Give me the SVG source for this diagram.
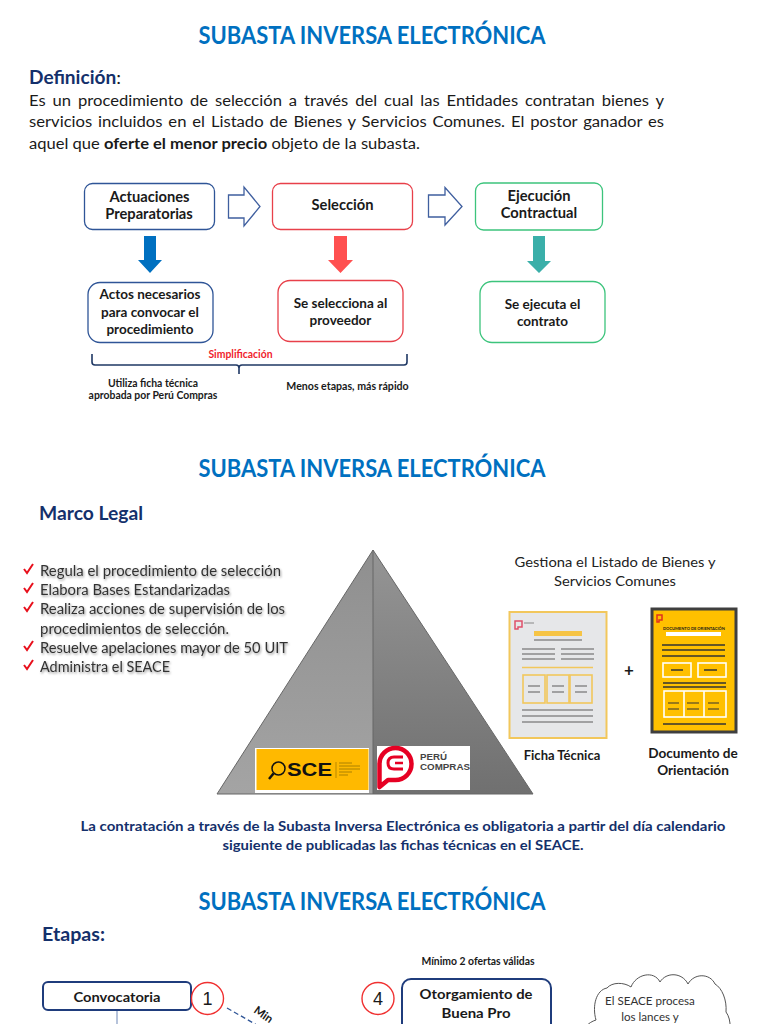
<svg xmlns="http://www.w3.org/2000/svg" width="768" height="1024" viewBox="0 0 768 1024">
<style>
text{font-family:"Lato","Open Sans","Liberation Sans",sans-serif;fill:#1a1a1a}
.t{font-size:24px;font-weight:700;fill:#0070c0;text-anchor:middle}
.h{font-size:18px;font-weight:700;fill:#14306b}
.b{font-size:15.5px}
.n{font-size:13.5px;font-weight:700;text-anchor:middle}
.m{font-size:14.700px;font-weight:700;text-anchor:middle}
.s{font-size:10.400px;font-weight:700;text-anchor:middle}
.l{font-size:14.5px;fill:#333;filter:url(#sh)}
.g{font-size:13.5px;text-anchor:middle;fill:#222}
.box{fill:#fff;stroke-width:1.3}
.blu{stroke:#2f5597}.red{stroke:#e8404a}.grn{stroke:#3cc47c}
.hol{fill:#fff;stroke:#3f5f9f;stroke-width:1.3}
.ck{fill:none;stroke:#e8101c;stroke-width:2}
.gl{stroke:#8a8a8a;stroke-width:1.6}
.dl{stroke:#333;stroke-width:1.6}
.yw{fill:none;stroke:#f2c75c;stroke-width:1.6}
.wh{fill:none;stroke:#fff;stroke-width:1.6}
</style>
<defs>
<linearGradient id="lf" x1="0" x2="0" y1="0" y2="1"><stop offset="0" stop-color="#8f8f8f"/><stop offset="1" stop-color="#a4a4a4"/></linearGradient>
<linearGradient id="rf" x1="0" x2="0" y1="0" y2="1"><stop offset="0" stop-color="#959595"/><stop offset="1" stop-color="#707070"/></linearGradient>
<filter id="sh" x="-5%" y="-30%" width="110%" height="170%"><feDropShadow dx="1" dy="1.5" stdDeviation="1.2" flood-color="#000" flood-opacity=".4"/></filter>
</defs>
<rect width="768" height="1024" fill="#fff"/>

<text class="t" x="372" y="44" textLength="347" lengthAdjust="spacingAndGlyphs">SUBASTA INVERSA ELECTRÓNICA</text>
<text class="h" x="29" y="84" textLength="92" lengthAdjust="spacingAndGlyphs">Definición<tspan style="font-weight:400;fill:#1a1a1a">:</tspan></text>
<text class="b" x="29" y="106" style="word-spacing:2.500px" textLength="635" lengthAdjust="spacingAndGlyphs">Es un procedimiento de selección a través del cual las Entidades contratan bienes y</text>
<text class="b" x="29" y="127" style="word-spacing:1.500px" textLength="635" lengthAdjust="spacingAndGlyphs">servicios incluidos en el Listado de Bienes y Servicios Comunes. El postor ganador es</text>
<text class="b" x="29" y="149" textLength="391" lengthAdjust="spacingAndGlyphs">aquel que <tspan font-weight="700">oferte el menor precio</tspan> objeto de la subasta.</text>

<g id="connectors">
<path class="hol" d="M228.500 195H244V187L260 206.500L244 226V218H228.500Z"/>
<path class="hol" d="M428.500 195H445V187.500L462 206.500L445 225V217H428.500Z"/>
<path fill="#0070c0" d="M144 236H156V260H162L150 273L138 260H144Z"/>
<path fill="#ff5050" d="M334 236H347V260H353L340.500 273L328 260H334Z"/>
<path fill="#3aafa9" d="M533 236H545V261H551L539 273L527 261H533Z"/>
<path d="M92 354V362Q92 365 95 365H236Q239 365 239 368V374M239 374V368Q239 365 242 365H404Q407 365 407 362V354" fill="none" stroke="#1f3864" stroke-width="1.600"/>
<path d="M117 1011V1024" stroke="#8fa3c8" stroke-width="1.300"/>
<path d="M227 1008L262 1028" stroke="#2f5597" stroke-width="1.300" stroke-dasharray="5 3" fill="none"/>
</g>

<g id="n1"><rect class="box blu" x="84.500" y="183.500" width="130" height="46" rx="8"/><text class="m" x="149.500" y="202">Actuaciones</text><text class="m" x="149" y="219">Preparatorias</text></g>
<g id="n2"><rect class="box red" x="272.500" y="183.500" width="140" height="46" rx="8"/><text class="m" x="342.500" y="210">Selección</text></g>
<g id="n3"><rect class="box grn" x="475.500" y="183" width="127" height="47" rx="8"/><text class="m" x="539" y="201">Ejecución</text><text class="m" x="539" y="218">Contractual</text></g>
<g id="n4"><rect class="box blu" x="88" y="282.500" width="125" height="60" rx="12"/><text class="n" x="150" y="299">Actos necesarios</text><text class="n" x="150" y="316.500">para convocar el</text><text class="n" x="150" y="334">procedimiento</text></g>
<g id="n5"><rect class="box red" x="278" y="280.500" width="125" height="61" rx="12"/><text class="n" x="340.500" y="307.500">Se selecciona al</text><text class="n" x="340.500" y="325">proveedor</text></g>
<g id="n6"><rect class="box grn" x="480" y="281.500" width="125" height="61" rx="12"/><text class="n" x="542.500" y="308.500">Se ejecuta el</text><text class="n" x="542.500" y="326">contrato</text></g>

<text class="s" x="240.500" y="358" style="fill:#f01c2c">Simplificación</text>
<text class="s" x="153" y="387">Utiliza ficha técnica</text>
<text class="s" x="153" y="399">aprobada por Perú Compras</text>
<text class="s" x="347.500" y="390" style="font-size:10.600px">Menos etapas, más rápido</text>

<text class="t" x="372" y="477" textLength="347" lengthAdjust="spacingAndGlyphs">SUBASTA INVERSA ELECTRÓNICA</text>
<text class="h" x="39" y="520" textLength="104" lengthAdjust="spacingAndGlyphs">Marco Legal</text>

<g id="lista">
<path class="ck" d="M24 569L27 573L33 564M24 588L27 592L33 583M24 607L27 611L33 602M24 646L27 650L33 641M24 665L27 669L33 660"/>
<text class="l" x="40" y="576" textLength="241" lengthAdjust="spacingAndGlyphs">Regula el procedimiento de selección</text>
<text class="l" x="40" y="595" textLength="190" lengthAdjust="spacingAndGlyphs">Elabora Bases Estandarizadas</text>
<text class="l" x="40" y="614" textLength="245" lengthAdjust="spacingAndGlyphs">Realiza acciones de supervisión de los</text>
<text class="l" x="40" y="634" textLength="189" lengthAdjust="spacingAndGlyphs">procedimientos de selección.</text>
<text class="l" x="40" y="653" textLength="248" lengthAdjust="spacingAndGlyphs">Resuelve apelaciones mayor de 50 UIT</text>
<text class="l" x="40" y="672" textLength="130" lengthAdjust="spacingAndGlyphs">Administra el SEACE</text>
</g>

<g id="piramide">
<path d="M373 550L217 794H373Z" fill="url(#lf)"/>
<path d="M373 550L533 794H373Z" fill="url(#rf)"/>
<path d="M373 550L217 794H533ZM373 550V794" fill="none" stroke="#666" stroke-width="1"/>
<rect x="255" y="748" width="114" height="45" fill="#fff"/>
<rect x="256.500" y="749" width="112" height="41" fill="#ffb900"/>
<circle cx="278.500" cy="768.500" r="6.500" fill="none" stroke="#111" stroke-width="1.500"/>
<path d="M273.500 773.500L269 779" stroke="#111" stroke-width="2.500"/>
<text x="287" y="776" style="font-family:'Liberation Sans',sans-serif;font-size:18px;font-weight:700;fill:#111" textLength="45" lengthAdjust="spacingAndGlyphs">SCE</text>
<path d="M336 762V778" stroke="#8a6a00" stroke-width=".6"/>
<path d="M339 763H352M339 766H360M339 769H360M339 772H352M339 775H348" stroke="#8a6a00" stroke-width="1" opacity=".7"/>
<rect x="377" y="746" width="93" height="44" fill="#fff"/>
<path d="M379.500 787V764A16 16 0 1 1 395.500 780H388Z" fill="none" stroke="#e60023" stroke-width="4.500" stroke-linejoin="round"/>
<path d="M403 757H394Q388 757 388 763Q388 769 394 769H403" fill="none" stroke="#e60023" stroke-width="3"/>
<path d="M395 763H403" stroke="#e60023" stroke-width="2.500"/>
<text x="420" y="759.500" style="font-family:'Liberation Sans',sans-serif;font-size:9px;font-weight:700;fill:#444" textLength="27" lengthAdjust="spacingAndGlyphs">PERÚ</text>
<text x="420" y="770" style="font-family:'Liberation Sans',sans-serif;font-size:9px;font-weight:700;fill:#444" textLength="50" lengthAdjust="spacingAndGlyphs">COMPRAS</text>
</g>

<text class="g" x="615" y="567" textLength="201" lengthAdjust="spacingAndGlyphs">Gestiona el Listado de Bienes y</text>
<text class="g" x="615" y="586" textLength="122" lengthAdjust="spacingAndGlyphs">Servicios Comunes</text>

<g id="ficha">
<rect x="509.500" y="612" width="97" height="126" fill="#e6e7e9" stroke="#f2c75c" stroke-width="2"/>
<path d="M515 621H522V627H518V629H515Z" fill="none" stroke="#e0506a" stroke-width="1.500"/>
<path d="M524 623H534" stroke="#888"/>
<rect x="534" y="631" width="48" height="5" fill="#f6c445"/>
<path class="gl" d="M534 640H582M522 649H555M561 649H594M522 654H555M561 654H594M522 659H555M561 659H594"/>
<path class="yw" d="M522 667.500H593"/>
<rect class="yw" x="523" y="675" width="22" height="28"/>
<rect class="yw" x="547" y="675" width="22" height="28"/>
<rect class="yw" x="570" y="675" width="22" height="28"/>
<path class="gl" d="M528 686H540M528 692H540M552 686H564M552 692H564M575 686H587M575 692H587M522 710H593M522 716H593M522 722H593"/>
</g>
<text x="629" y="676" style="font-size:17px;font-weight:700;text-anchor:middle">+</text>
<g id="documento">
<rect x="652" y="609" width="84" height="123" fill="#ffc000" stroke="#3f3f3f" stroke-width="3"/>
<path d="M657 615H662V620H659V622H657Z" fill="none" stroke="#e0301e" stroke-width="1.500"/>
<text x="694" y="630" style="font-size:4.200px;font-weight:700;text-anchor:middle" textLength="62" lengthAdjust="spacingAndGlyphs">DOCUMENTO DE ORIENTACIÓN</text>
<rect x="666" y="632" width="55" height="4" fill="#fff"/>
<path class="dl" d="M662 645H725M662 650H725M662 656H725"/>
<rect class="wh" x="663" y="663" width="28" height="14"/><rect class="wh" x="698" y="663" width="28" height="14"/>
<path class="dl" d="M671 670H683M704 670H717M663 683H726M663 687H726"/>
<rect class="wh" x="664" y="691" width="62" height="26"/>
<path class="wh" d="M684 691V717M704 691V717"/>
<path d="M668 703H679M668 709H679M687 703H699M687 709H699M708 703H719M708 709H719" stroke="#333" stroke-width="1"/>
<path class="dl" d="M663 724H726"/>
</g>
<text x="562" y="760" style="font-size:13px;font-weight:700;text-anchor:middle">Ficha Técnica</text>
<text x="693" y="758" style="font-size:13.600px;font-weight:700;text-anchor:middle">Documento de</text>
<text x="693" y="775" style="font-size:13.600px;font-weight:700;text-anchor:middle">Orientación</text>

<text x="403" y="831" style="font-size:13.500px;font-weight:700;fill:#14306b;text-anchor:middle" textLength="645" lengthAdjust="spacingAndGlyphs">La contratación a través de la Subasta Inversa Electrónica es obligatoria a partir del día calendario</text>
<text x="403" y="850" style="font-size:13.500px;font-weight:700;fill:#14306b;text-anchor:middle" textLength="361" lengthAdjust="spacingAndGlyphs">siguiente de publicadas las fichas técnicas en el SEACE.</text>

<text class="t" x="372" y="910" textLength="347" lengthAdjust="spacingAndGlyphs">SUBASTA INVERSA ELECTRÓNICA</text>
<text class="h" x="42" y="941" textLength="63" lengthAdjust="spacingAndGlyphs">Etapas:</text>

<g id="n7"><rect x="43" y="982" width="148" height="28" rx="5" fill="#fff" stroke="#1f3c7c" stroke-width="2"/><text class="n" x="117" y="1002" textLength="87" lengthAdjust="spacingAndGlyphs">Convocatoria</text></g>
<g id="c1"><circle cx="207.500" cy="998.500" r="16" fill="#fff" stroke="#f03030" stroke-width="1.400"/><text x="207.500" y="1005" style="font-family:'Liberation Sans',sans-serif;font-size:18px;text-anchor:middle">1</text></g>
<text x="253" y="1012" transform="rotate(35 253 1012)" style="font-size:11.500px;font-weight:700">Min</text>
<g id="c4"><circle cx="378" cy="998.500" r="16" fill="#fff" stroke="#f03030" stroke-width="1.400"/><text x="378" y="1005" style="font-family:'Liberation Sans',sans-serif;font-size:18px;text-anchor:middle">4</text></g>
<text class="s" x="478" y="965">Mínimo 2 ofertas válidas</text>
<g id="n8"><rect x="402" y="979" width="149" height="60" rx="9" fill="#fff" stroke="#1f3c7c" stroke-width="2"/><text class="n" x="476" y="999" textLength="113" lengthAdjust="spacingAndGlyphs">Otorgamiento de</text><text class="n" x="476" y="1018" textLength="69" lengthAdjust="spacingAndGlyphs">Buena Pro</text></g>
<g id="nube"><path d="M590 1040C582 1032 584 1024 596 1020C592 1006 596 990 607 988C612 982 624 982 631 987C636 974 654 970 660 982C666 972 682 972 688 984C694 973 710 973 715 984C722 988 727 1000 726 1012C732 1020 731 1034 726 1045" fill="#fff" stroke="#555" stroke-width="1"/>
<text x="650" y="1005" style="font-size:11.600px;text-anchor:middle;fill:#333">El SEACE procesa</text><text x="650" y="1021" style="font-size:11.600px;text-anchor:middle;fill:#333">los lances y</text></g>
</svg>
